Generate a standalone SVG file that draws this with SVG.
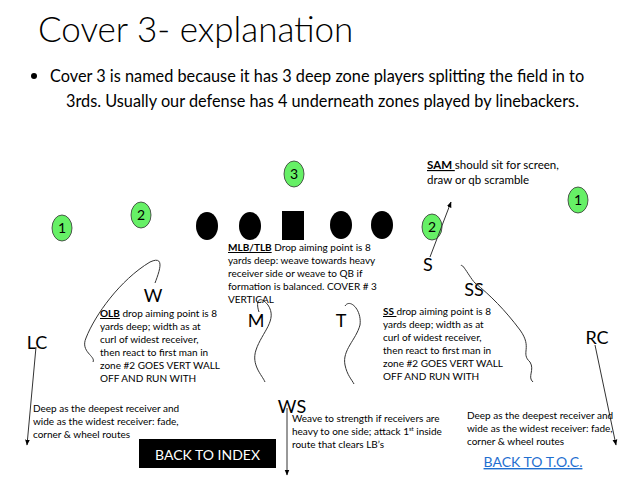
<svg xmlns="http://www.w3.org/2000/svg" width="638" height="478" viewBox="0 0 638 478">
<style>
text{font-family:Lato,"Liberation Sans",sans-serif;fill:#000}
.g{fill:#66f066;stroke:#333;stroke-width:0.8}
.n{font-size:14px;text-anchor:middle}
.lb{font-size:18px;text-anchor:middle}
.s{font-size:10px}
.c{fill:none;stroke:#333;stroke-width:1}
</style>
<defs><marker id="a" viewBox="0 0 10 10" refX="9" refY="5" markerWidth="6" markerHeight="6" orient="auto"><path d="M0,1 L10,5 L0,9z" fill="#000"/></marker></defs>
<rect width="638" height="478" fill="#fff"/>
<text x="38" y="42" font-size="35" font-weight="300">Cover 3- explanation</text>
<circle cx="34" cy="76" r="3"/>
<text x="50" y="82" font-size="16.3">Cover 3 is named because it has 3 deep zone players splitting the field in to</text>
<text x="66" y="107" font-size="16.3">3rds. Usually our defense has 4 underneath zones played by linebackers.</text>
<g id="z1l"><ellipse class="g" cx="62" cy="228" rx="10" ry="13"/><text class="n" x="62" y="233">1</text></g>
<g id="z2l"><ellipse class="g" cx="141" cy="215" rx="10" ry="13"/><text class="n" x="141" y="220">2</text></g>
<g id="z3"><ellipse class="g" cx="294" cy="174" rx="10" ry="13"/><text class="n" x="294" y="179">3</text></g>
<g id="z2r"><ellipse class="g" cx="432" cy="227" rx="10" ry="13"/><text class="n" x="432" y="232">2</text></g>
<g id="z1r"><ellipse class="g" cx="578" cy="200" rx="10" ry="13"/><text class="n" x="578" y="205">1</text></g>
<g id="ol">
<ellipse cx="207" cy="226" rx="11" ry="14"/><ellipse cx="250" cy="226" rx="11" ry="14"/>
<rect x="282" y="211" width="22" height="29"/>
<ellipse cx="341" cy="225" rx="11" ry="14"/><ellipse cx="382" cy="225" rx="11" ry="14"/>
</g>
<g id="labels">
<text class="lb" x="153" y="302">W</text>
<text class="lb" x="256" y="327">M</text>
<text class="lb" x="341" y="327">T</text>
<text class="lb" x="428" y="271">S</text>
<text class="lb" x="474" y="296">SS</text>
<text class="lb" x="37" y="349">LC</text>
<text class="lb" x="597" y="344">RC</text>
<text class="lb" x="292" y="413">WS</text>
</g>
<g id="connectors">
<line class="c" x1="36" y1="347" x2="27" y2="445" marker-end="url(#a)"/>
<line class="c" x1="595" y1="345" x2="616" y2="445" marker-end="url(#a)"/>
<line class="c" x1="287" y1="408" x2="287" y2="475" marker-end="url(#a)"/>
<line class="c" x1="430" y1="257" x2="451" y2="202" marker-end="url(#a)"/>
<path class="c" d="M155,283 C160,270 165,255 150,262 C120,280 95,315 86,338 C80,352 96,356 93,362"/>
<path class="c" d="M259,312 C255,300 260,295 268,305 C278,320 262,332 256,350 C251,365 262,375 265,382"/>
<path class="c" d="M345,306 C350,298 362,310 360,325 C356,340 342,350 345,365 C347,375 352,380 354,384"/>
<path class="c" d="M461,266 C462,262 470,278 475,283 C490,295 505,310 520,330 C533,348 520,353 530,362 C535,370 527,377 533,382"/>
</g>
<g id="texts" class="s">
<text class="s" x="228" y="251"><tspan font-weight="bold" text-decoration="underline">MLB/TLB</tspan> Drop aiming point is 8</text>
<text class="s" x="228" y="264">yards deep: weave towards heavy</text>
<text class="s" x="228" y="277">receiver side or weave to QB if</text>
<text class="s" x="228" y="290">formation is balanced. COVER # 3</text>
<text class="s" x="228" y="303">VERTICAL</text>
<text class="s" x="100" y="317"><tspan font-weight="bold" text-decoration="underline">OLB</tspan> drop aiming point is 8</text>
<text class="s" x="100" y="330">yards deep; width as at</text>
<text class="s" x="100" y="343">curl of widest receiver,</text>
<text class="s" x="100" y="356">then react to first man in</text>
<text class="s" x="100" y="369">zone #2 GOES VERT WALL</text>
<text class="s" x="100" y="382">OFF AND RUN WITH</text>
<text class="s" x="383" y="315"><tspan font-weight="bold" text-decoration="underline">SS </tspan>drop aiming point is 8</text>
<text class="s" x="383" y="328">yards deep; width as at</text>
<text class="s" x="383" y="341">curl of widest receiver,</text>
<text class="s" x="383" y="354">then react to first man in</text>
<text class="s" x="383" y="367">zone #2 GOES VERT WALL</text>
<text class="s" x="383" y="380">OFF AND RUN WITH</text>
<text x="427" y="169" font-size="11.5"><tspan font-weight="bold" text-decoration="underline">SAM </tspan>should sit for screen,</text>
<text x="427" y="184" font-size="11.5">draw or qb scramble</text>
<text class="s" x="33" y="412">Deep as the deepest receiver and</text>
<text class="s" x="33" y="425">wide as the widest receiver: fade,</text>
<text class="s" x="33" y="438">corner &amp; wheel routes</text>
<text class="s" x="467" y="419">Deep as the deepest receiver and</text>
<text class="s" x="467" y="432">wide as the widest receiver: fade,</text>
<text class="s" x="467" y="445">corner &amp; wheel routes</text>
<text class="s" x="292" y="422">Weave to strength if receivers are</text>
<text class="s" x="292" y="435">heavy to one side; attack 1<tspan font-size="6" dy="-4">st</tspan><tspan dy="4"> inside</tspan></text>
<text class="s" x="292" y="448">route that clears LB’s</text>
</g>
<g id="btn1"><rect x="139" y="439" width="137" height="29" fill="#000"/><text x="207.5" y="460" font-size="14" text-anchor="middle" style="fill:#fff">BACK TO INDEX</text></g>
<g id="btn2"><text x="533" y="467" font-size="14" text-anchor="middle" text-decoration="underline" style="fill:#1f6fd0">BACK TO T.O.C.</text></g>
</svg>
